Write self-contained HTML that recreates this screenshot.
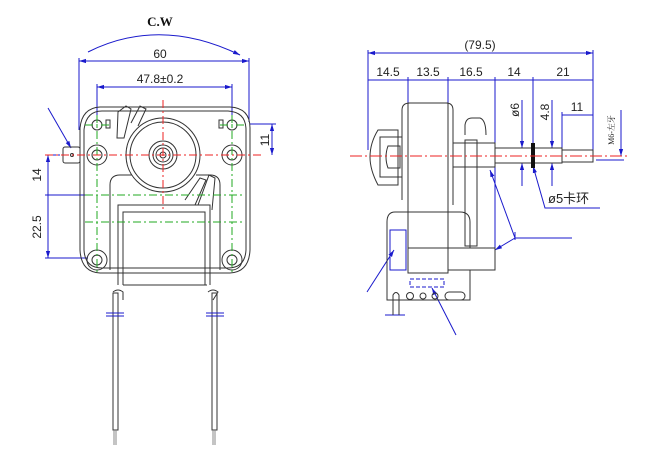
<!DOCTYPE html>
<html><head><meta charset="utf-8"><style>
html,body{margin:0;padding:0;background:#fff;width:650px;height:453px;overflow:hidden}
svg{display:block}
text{font-family:"Liberation Sans","Noto Sans CJK SC",sans-serif}
</style></head><body>
<svg width="650" height="453" viewBox="0 0 650 453" xmlns="http://www.w3.org/2000/svg">
<defs>
<marker id="a" viewBox="0 0 10 10" refX="10" refY="5" markerWidth="7" markerHeight="7" orient="auto-start-reverse"><path d="M0,2 L10,5 L0,8z" fill="#1a1acc"/></marker>
</defs>
<g fill="none" stroke-width="1">
<text x="160" y="26" font-size="13" font-weight="bold" text-anchor="middle" fill="#111" stroke="none" style="font-family:'Liberation Serif',serif">C.W</text>
<path d="M88,52 Q160,16 240,55" stroke="#1a1acc" marker-end="url(#a)"/>
<g stroke="#1a1acc">
<line x1="79" y1="61" x2="249" y2="61" marker-start="url(#a)" marker-end="url(#a)"/>
<line x1="79" y1="58" x2="79" y2="130"/><line x1="249" y1="58" x2="249" y2="122"/>
<line x1="97" y1="87" x2="232" y2="87" marker-start="url(#a)" marker-end="url(#a)"/>
<line x1="97" y1="84" x2="97" y2="120"/><line x1="232" y1="84" x2="232" y2="120"/>
<line x1="250" y1="124" x2="276" y2="124"/><line x1="272" y1="124" x2="272" y2="155" marker-start="url(#a)" marker-end="url(#a)"/>
<line x1="45" y1="155" x2="60" y2="155"/>
<line x1="48" y1="155" x2="48" y2="195" marker-start="url(#a)"/>
<line x1="48" y1="195" x2="48" y2="258" marker-end="url(#a)"/>
<line x1="45" y1="195" x2="85" y2="195"/><line x1="45" y1="258" x2="88" y2="258"/>
<line x1="48" y1="108" x2="71" y2="148" marker-end="url(#a)"/>
</g>
<g fill="#222" stroke="none" font-size="12">
<text x="160" y="58" text-anchor="middle">60</text>
<text x="160" y="83" text-anchor="middle">47.8±0.2</text>
<text transform="translate(272,140) rotate(-90)" text-anchor="middle" dy="-3">11</text>
<text transform="translate(44,175) rotate(-90)" text-anchor="middle" dy="-3">14</text>
<text transform="translate(44,227) rotate(-90)" text-anchor="middle" dy="-3">22.5</text>
</g>
<g stroke="#333">
<path d="M80,128 Q82,108 100,107 L230,107 Q250,108 250,128 L250,250 Q249,272 230,273 L100,273 Q81,272 80,250 Z"/>
<path d="M84,130 Q86,111 102,111 L228,111 Q246,112 246,130 L246,250 Q245,268 228,268 L102,268 Q85,268 84,250 Z"/>
<rect x="63" y="147" width="17" height="16" rx="2"/>
<circle cx="72" cy="155" r="1.5"/>
<circle cx="97" cy="125" r="5"/><circle cx="232" cy="125" r="5"/>
<rect x="106" y="120" width="4" height="8"/><rect x="219" y="120" width="4" height="8"/>
<circle cx="97" cy="155" r="10"/><circle cx="97" cy="155" r="5"/>
<circle cx="232" cy="155" r="10"/><circle cx="232" cy="155" r="5"/>
<circle cx="97" cy="260" r="10"/><circle cx="97" cy="260" r="5"/>
<circle cx="232" cy="260" r="10"/><circle cx="232" cy="260" r="5"/>
<circle cx="163" cy="155" r="37"/><circle cx="163" cy="155" r="33"/>
<circle cx="163" cy="155" r="14"/><circle cx="163" cy="155" r="10"/><circle cx="163" cy="155" r="7"/><circle cx="163" cy="155" r="3"/>
<path d="M118,112 L126,106 L131,109 L124,138 L117,138 Z"/>
<path d="M131,123 L140,106 L146,109 L138,126"/>
<path d="M185,200 L200,178 L206,180 L195,205"/>
<path d="M198,205 L209,175 L215,178 L212,210"/>
<path d="M110,270 L110,185 Q110,175 120,175 L132,175"/>
<path d="M220,270 L220,185 Q220,175 210,175 L196,175"/>
<path d="M118,285 L118,205 L210,205 L210,285"/>
<path d="M123,285 L123,212 L205,212 L205,285"/>
<line x1="123" y1="285" x2="207" y2="285"/>
<path d="M113,292 Q118,288 123,292 L123,300 M208,292 Q213,288 218,292 L213,300"/>
<rect x="113" y="293" width="5" height="137"/>
<rect x="212" y="293" width="5" height="137"/>
<path d="M114,430 L114,445 M116,430 L116,445 M213,430 L213,445 M215,430 L215,445" stroke="#888"/>
</g>
<g stroke="#1a1acc"><line x1="106" y1="313" x2="124" y2="313"/><line x1="106" y1="316" x2="124" y2="316"/>
<line x1="206" y1="313" x2="224" y2="313"/><line x1="206" y1="316" x2="224" y2="316"/></g>
<g stroke="#2a2" stroke-dasharray="8,3,2,3">
<line x1="97" y1="115" x2="97" y2="272"/><line x1="232" y1="115" x2="232" y2="272"/>
<line x1="85" y1="195" x2="245" y2="195"/><line x1="85" y1="222" x2="245" y2="222"/>
<line x1="85" y1="125" x2="110" y2="125"/><line x1="220" y1="125" x2="245" y2="125"/>
</g>
<g stroke="#e22" stroke-dasharray="8,3,2,3">
<line x1="45" y1="155" x2="262" y2="155"/><line x1="163" y1="100" x2="163" y2="212"/>
</g>
<g stroke="#1a1acc">
<line x1="368" y1="53" x2="593" y2="53" marker-start="url(#a)" marker-end="url(#a)"/>
<line x1="368" y1="80" x2="593" y2="80"/>
<line x1="368" y1="50" x2="368" y2="150"/><line x1="408" y1="77" x2="408" y2="103"/>
<line x1="448" y1="77" x2="448" y2="103"/><line x1="495" y1="77" x2="495" y2="250"/>
<line x1="533" y1="77" x2="533" y2="145"/><line x1="593" y1="50" x2="593" y2="158"/>
<line x1="522" y1="100" x2="522" y2="148" marker-end="url(#a)"/>
<line x1="522" y1="186" x2="522" y2="163" marker-end="url(#a)"/>
<line x1="552" y1="100" x2="552" y2="148" marker-end="url(#a)"/>
<line x1="552" y1="186" x2="552" y2="163" marker-end="url(#a)"/>
<line x1="562" y1="112" x2="562" y2="148"/>
<line x1="562" y1="115" x2="593" y2="115"/>
<line x1="621" y1="110" x2="621" y2="156" marker-end="url(#a)"/>
<line x1="596" y1="160" x2="624" y2="160"/>
<path d="M600,208 L545,208 L533,166" marker-end="url(#a)"/>
<line x1="515" y1="238" x2="490" y2="170" marker-end="url(#a)"/>
<line x1="515" y1="238" x2="495" y2="250" marker-end="url(#a)"/>
<line x1="515" y1="238" x2="572" y2="238"/>
<line x1="515" y1="232" x2="515" y2="240"/>
<rect x="390" y="230" width="16" height="40"/>
<line x1="367" y1="292" x2="394" y2="250" marker-end="url(#a)"/>
<rect x="410" y="279" width="34" height="8" stroke-dasharray="4,2"/>
<line x1="456" y1="335" x2="432" y2="288" marker-end="url(#a)"/>
<line x1="385" y1="315" x2="405" y2="315"/>
</g>
<g fill="#222" stroke="none" font-size="12">
<text x="480" y="49" text-anchor="middle">(79.5)</text>
<text x="388" y="76" text-anchor="middle">14.5</text>
<text x="428" y="76" text-anchor="middle">13.5</text>
<text x="471" y="76" text-anchor="middle">16.5</text>
<text x="514" y="76" text-anchor="middle">14</text>
<text x="563" y="76" text-anchor="middle">21</text>
<text x="577" y="111" text-anchor="middle">11</text>
<text transform="translate(519,110) rotate(-90)" text-anchor="middle">ø6</text>
<text transform="translate(549,112) rotate(-90)" text-anchor="middle">4.8</text>
<text transform="translate(614,130) rotate(-90)" text-anchor="middle" font-size="8" style="font-family:'Liberation Serif','Noto Serif CJK SC',serif">M6-左牙</text>
<text x="548" y="203" font-size="13">ø5卡环</text>
</g>
<g stroke="#333">
<path d="M378,130 L398,130 L398,185 L378,185 Q370,170 370,157 Q370,143 378,130 Z"/>
<rect x="380" y="137" width="22" height="40"/>
<path d="M388,146 L400,146 L400,168 L388,168 Q384,157 388,146Z"/>
<path d="M402,110 Q402,103 410,103 L446,103 Q453,103 453,110 L453,205"/>
<path d="M402,110 L402,200"/>
<rect x="408" y="103" width="40" height="170"/>
<line x1="408" y1="248" x2="448" y2="248"/>
<path d="M465,135 L465,125 Q466,118 472,118 L480,118 Q486,120 486,135"/>
<rect x="465" y="140" width="12" height="106"/>
<rect x="453" y="143" width="42" height="24"/>
<rect x="495" y="148" width="67" height="15"/>
<rect x="562" y="150" width="31" height="12"/>
<rect x="448" y="248" width="47" height="22"/>
<path d="M395,212 L460,212 Q470,212 470,222 L470,248"/>
<path d="M395,212 Q387,212 387,222 L387,300 L470,300 L470,270"/>
<circle cx="410" cy="296" r="3.5"/><circle cx="423" cy="296" r="3"/><circle cx="435" cy="296" r="3"/>
<rect x="445" y="292" width="20" height="8" rx="4"/>
<path d="M393,315 L393,295 Q396,290 399,295 L399,315"/>
</g>
<rect x="531" y="143" width="4" height="25" fill="#111"/>
<line x1="350" y1="156" x2="630" y2="156" stroke="#e22" stroke-dasharray="12,3,2,3"/>
</g>
</svg>
</body></html>
